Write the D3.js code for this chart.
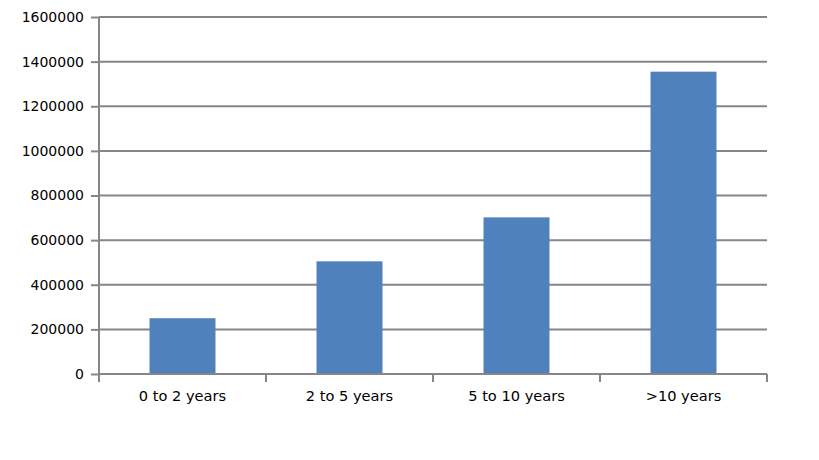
<!DOCTYPE html>
<html>
<head>
<meta charset="utf-8">
<script src="https://cdn.jsdelivr.net/npm/d3@7"></script>
<style>
  body { margin: 0; background: #fff; }
  .axis text { font-family: "DejaVu Sans", Verdana, sans-serif; font-size: 14px; fill: #000; }
  .axis text.xlabel { font-size: 14.6px; }
</style>
</head>
<body>
<svg width="819" height="460"></svg>
<script>
// chart data
var categories = ["0 to 2 years", "2 to 5 years", "5 to 10 years", ">10 years"];
var values = [250000, 505000, 702000, 1355000];
var yTicks = [0, 200000, 400000, 600000, 800000, 1000000, 1200000, 1400000, 1600000];

var svg = d3.select("svg"),
    margin = { top: 17, right: 52, bottom: 86, left: 99 },
    width = 819 - margin.left - margin.right,
    height = 460 - margin.top - margin.bottom;

var g = svg.append("g").attr("transform", "translate(" + margin.left + "," + margin.top + ")");

var x = d3.scaleBand().domain(categories).range([0, width]).paddingInner(0.605).paddingOuter(0.3025);
var xCat = d3.scaleBand().domain(categories).range([0, width]);
var y = d3.scaleLinear().domain([0, 1600000]).range([height, 0]);

// gridlines
g.append("g")
    .selectAll("line")
    .data(yTicks.slice(1))
    .enter().append("line")
    .attr("x1", 0)
    .attr("x2", width)
    .attr("y1", function(d) { return y(d); })
    .attr("y2", function(d) { return y(d); })
    .attr("stroke", "#868686")
    .attr("stroke-width", 2);

// bars
g.selectAll(".bar")
    .data(values)
    .enter().append("rect")
    .attr("class", "bar")
    .attr("x", function(d, i) { return x(categories[i]); })
    .attr("width", x.bandwidth())
    .attr("y", function(d) { return y(d); })
    .attr("height", function(d) { return height - y(d); })
    .attr("fill", "#4F81BD");

// y axis
var yAxis = g.append("g")
    .attr("class", "axis")
    .call(d3.axisLeft(y).tickValues(yTicks).tickFormat(d3.format("d")).tickSize(8).tickPadding(7));
yAxis.select(".domain").attr("stroke", "#868686").attr("stroke-width", 2).attr("d", "M0,0V" + (height + 8));
yAxis.selectAll(".tick line").attr("stroke", "#868686").attr("stroke-width", 2);

// x axis with ticks at category boundaries
var xAxis = g.append("g")
    .attr("class", "axis")
    .attr("transform", "translate(0," + height + ")");
xAxis.append("line")
    .attr("x1", 0).attr("x2", width)
    .attr("stroke", "#868686").attr("stroke-width", 2);
xAxis.selectAll(".xtick")
    .data(categories.slice(1).concat([null]))
    .enter().append("line")
    .attr("class", "xtick")
    .attr("x1", function(d, i) { return xCat.step() * (i + 1); })
    .attr("x2", function(d, i) { return xCat.step() * (i + 1); })
    .attr("y1", 0).attr("y2", 8)
    .attr("stroke", "#868686").attr("stroke-width", 2);
xAxis.selectAll(".xlabel")
    .data(categories)
    .enter().append("text")
    .attr("class", "xlabel")
    .attr("x", function(d) { return xCat(d) + xCat.bandwidth() / 2; })
    .attr("y", 27)
    .attr("text-anchor", "middle")
    .text(function(d) { return d; });
</script>
</body>
</html>
